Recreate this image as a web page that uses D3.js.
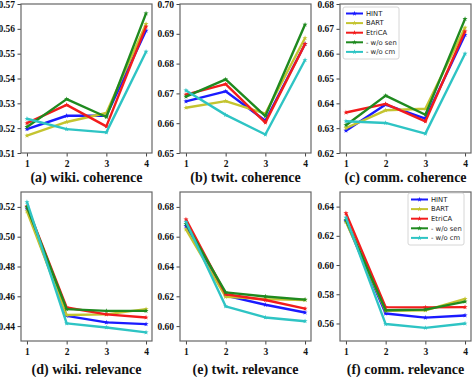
<!DOCTYPE html>
<html><head><meta charset="utf-8">
<script src="https://cdn.jsdelivr.net/npm/d3@7"></script>
<style>body{margin:0;background:#fff}svg{display:block}</style>
</head><body>
<svg id="c" width="474" height="377"></svg>
<script>
const steps = [1, 2, 3, 4];
const seriesNames = ["HINT", "BART", "EtriCA", "- w/o sen", "- w/o cm"];
const panelTitles = ["(a) wiki. coherence", "(b) twit. coherence", "(c) comm. coherence",
                     "(d) wiki. relevance", "(e) twit. relevance", "(f) comm. relevance"];
// rows: HINT, BART, EtriCA, w/o sen, w/o cm
const wikiCoherence = [
  [0.5196, 0.5250, 0.5250, 0.5593],
  [0.5170, 0.5225, 0.5261, 0.5620],
  [0.5220, 0.5294, 0.5207, 0.5609],
  [0.5205, 0.5317, 0.5245, 0.5662],
  [0.5238, 0.5196, 0.5183, 0.5508]];
const twitCoherence = [
  [0.6673, 0.6707, 0.6608, 0.6866],
  [0.6652, 0.6674, 0.6632, 0.6886],
  [0.6696, 0.6731, 0.6602, 0.6866],
  [0.6689, 0.6747, 0.6624, 0.6931],
  [0.6710, 0.6628, 0.6562, 0.6812]];
const commCoherence = [
  [0.6290, 0.6395, 0.6338, 0.6676],
  [0.6300, 0.6372, 0.6378, 0.6705],
  [0.6363, 0.6398, 0.6327, 0.6690],
  [0.6312, 0.6431, 0.6354, 0.6740],
  [0.6328, 0.6321, 0.6278, 0.6600]];
const wikiRelevance = [
  [0.5189, 0.4469, 0.4425, 0.4413],
  [0.5171, 0.4474, 0.4479, 0.4514],
  [0.5204, 0.4525, 0.4479, 0.4458],
  [0.5200, 0.4514, 0.4502, 0.4502],
  [0.5233, 0.4418, 0.4391, 0.4358]];
const twitRelevance = [
  [0.6671, 0.6204, 0.6143, 0.6091],
  [0.6649, 0.6197, 0.6181, 0.6175],
  [0.6716, 0.6214, 0.6175, 0.6117],
  [0.6686, 0.6226, 0.6199, 0.6178],
  [0.6700, 0.6133, 0.6058, 0.6033]];
const commRelevance = [
  [0.6302, 0.5668, 0.5640, 0.5655],
  [0.6296, 0.5686, 0.5690, 0.5768],
  [0.6355, 0.5712, 0.5710, 0.5712],
  [0.6309, 0.5690, 0.5695, 0.5750],
  [0.6325, 0.5596, 0.5570, 0.5600]];
const yDomains = [[0.51, 0.57], [0.65, 0.70], [0.62, 0.68], [0.43, 0.53], [0.59, 0.69], [0.548, 0.650]];
const yTickValues = [
  [0.51, 0.52, 0.53, 0.54, 0.55, 0.56, 0.57],
  [0.65, 0.66, 0.67, 0.68, 0.69, 0.70],
  [0.62, 0.63, 0.64, 0.65, 0.66, 0.67, 0.68],
  [0.44, 0.46, 0.48, 0.50, 0.52],
  [0.60, 0.62, 0.64, 0.66, 0.68],
  [0.56, 0.58, 0.60, 0.62, 0.64]];
const panelData = [wikiCoherence, twitCoherence, commCoherence, wikiRelevance, twitRelevance, commRelevance];
const legendPanels = [2, 5];

const colors = ["#1a1aff", "#c4c430", "#f21c1c", "#1f8a1f", "#2ec4c4"];
const colLeft = [21, 180, 340];
const panelW = 131;
const rowTop = [4, 192];
const panelH = 149;

const svg = d3.select("#c");
const star = d3.symbol().type(d3.symbolStar).size(8);

panelData.forEach((data, pi) => {
  const col = pi % 3, row = Math.floor(pi / 3);
  const x0 = colLeft[col], y0 = rowTop[row];
  const g = svg.append("g").attr("transform", `translate(${x0},${y0})`);
  const x = d3.scaleLinear().domain([0.85, 4.15]).range([0, panelW]);
  const y = d3.scaleLinear().domain(yDomains[pi]).range([panelH, 0]);

  const xa = g.append("g").attr("transform", `translate(0,${panelH})`)
    .call(d3.axisBottom(x).tickValues(steps).tickFormat(d3.format("d")).tickSize(3.5).tickPadding(2));
  const ya = g.append("g")
    .call(d3.axisLeft(y).tickValues(yTickValues[pi]).tickFormat(d3.format(".2f")).tickSize(3.5).tickPadding(2.5));
  [xa, ya].forEach(a => {
    a.select(".domain").remove();
    a.selectAll("line").attr("stroke", "#444");
    a.selectAll("text").attr("font-family", "Liberation Serif").attr("font-weight", "bold")
      .attr("font-size", 9.5).attr("fill", "#111");
  });
  xa.selectAll("text").attr("dy", "0.85em");

  const line = d3.line().x((d, i) => x(steps[i])).y(d => y(d));
  data.forEach((s, si) => {
    g.append("path").attr("d", line(s)).attr("fill", "none")
      .attr("stroke", colors[si]).attr("stroke-width", 2.4).attr("stroke-linejoin", "round");
    g.selectAll(null).data(s).enter().append("path")
      .attr("d", star).attr("fill", colors[si])
      .attr("transform", (d, i) => `translate(${x(steps[i])},${y(d)})`);
  });

  g.append("rect").attr("x", 0).attr("y", 0).attr("width", panelW).attr("height", panelH)
    .attr("fill", "none").attr("stroke", "#666").attr("stroke-width", 1.2);

  svg.append("text").attr("x", x0 + panelW / 2).attr("y", row === 0 ? 182 : 374)
    .attr("text-anchor", "middle").attr("font-family", "Liberation Serif").attr("font-weight", "bold")
    .attr("font-size", 14).attr("fill", "#111").text(panelTitles[pi]);

  if (legendPanels.includes(pi)) {
    const lx = pi === 2 ? 3 : 68, ly = pi === 2 ? 3 : 1;
    const lg = g.append("g").attr("transform", `translate(${lx},${ly})`);
    lg.append("rect").attr("width", 56).attr("height", 52).attr("rx", 2)
      .attr("fill", "#fff").attr("stroke", "#ccc").attr("stroke-width", 0.8);
    seriesNames.forEach((n, si) => {
      const yy = 6.5 + si * 9.6;
      lg.append("line").attr("x1", 3).attr("x2", 20).attr("y1", yy).attr("y2", yy)
        .attr("stroke", colors[si]).attr("stroke-width", 2);
      lg.append("path").attr("d", star).attr("fill", colors[si]).attr("transform", `translate(11.5,${yy})`);
      lg.append("text").attr("x", 23).attr("y", yy).attr("dy", "0.35em")
        .attr("font-family", "DejaVu Sans").attr("font-size", 6.8).attr("fill", "#222").text(n);
    });
  }
});
</script>
</body></html>
